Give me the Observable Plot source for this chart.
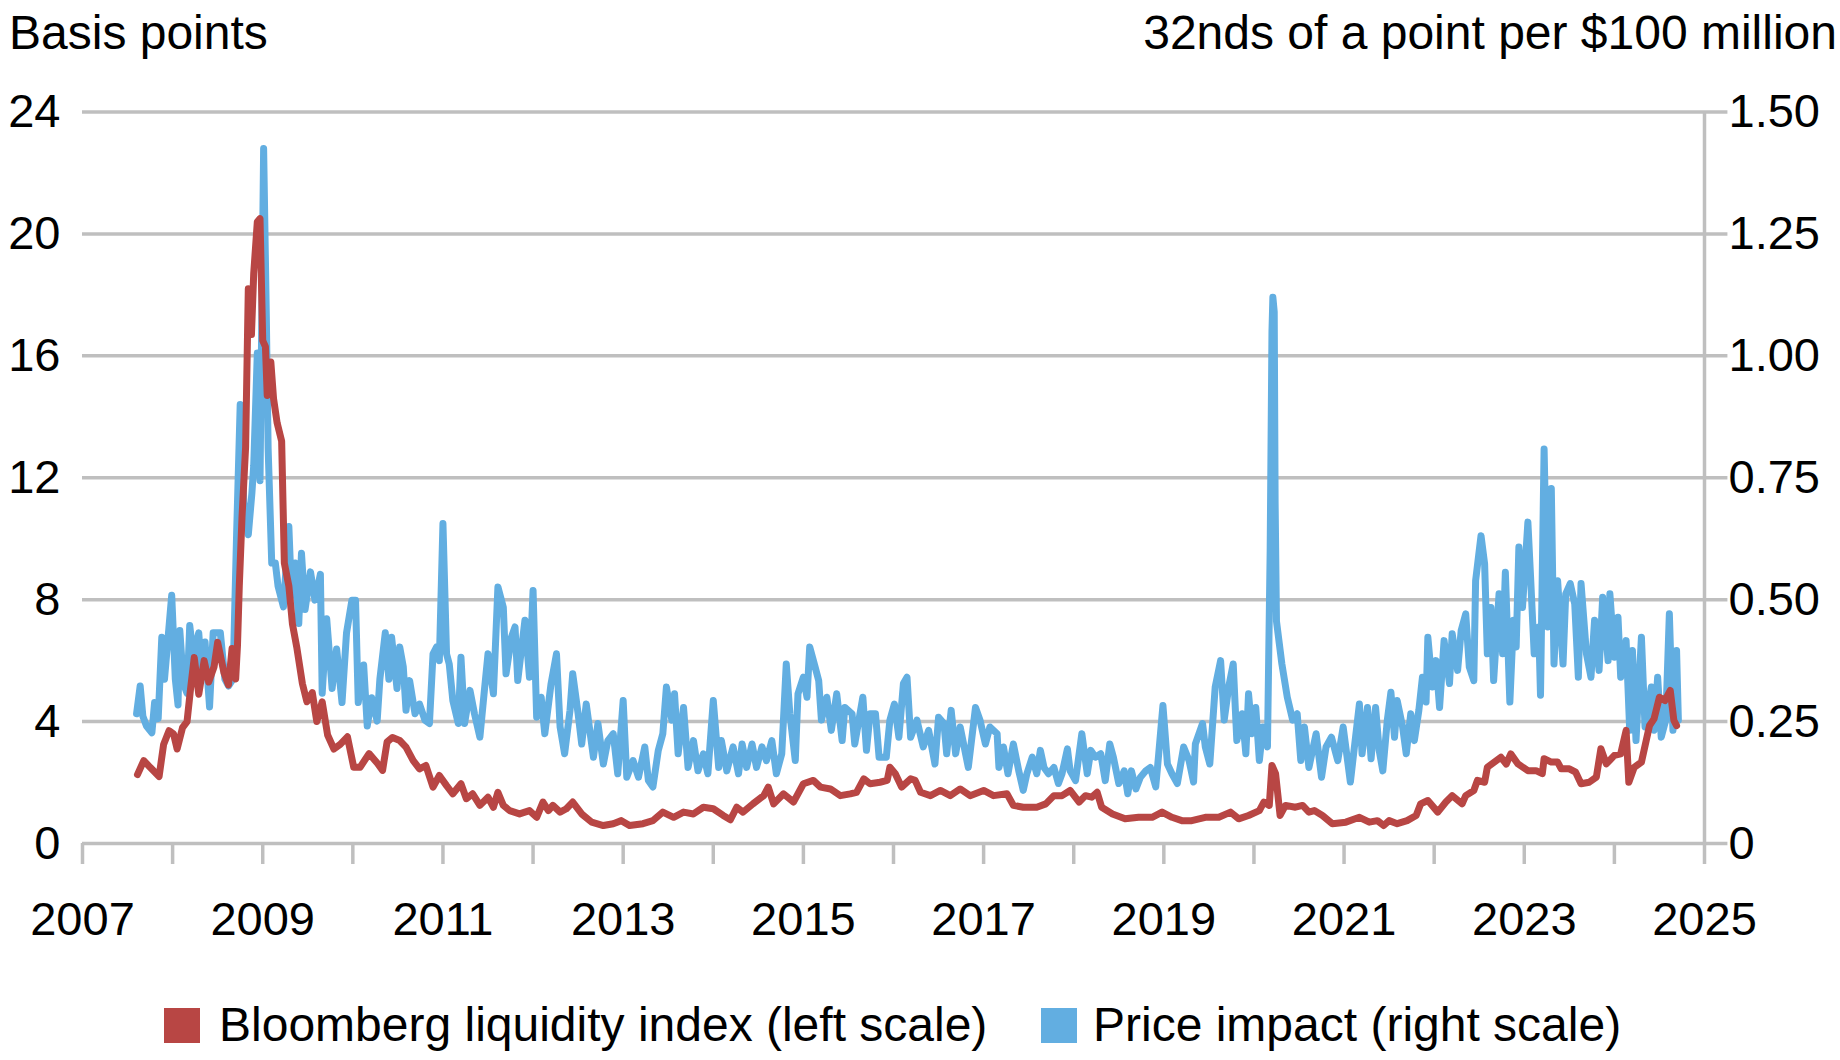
<!DOCTYPE html>
<html><head><meta charset="utf-8">
<script src="https://cdn.jsdelivr.net/npm/d3@7"></script>
<script src="https://cdn.jsdelivr.net/npm/@observablehq/plot@0.6"></script>
<style>
body{margin:0;background:#fff;font-family:"Liberation Sans",Arial,sans-serif;}
#wrap{position:relative;width:1840px;height:1060px;overflow:hidden;background:#fff;}
#chart{position:absolute;left:0;top:0;}
.t{position:absolute;font-size:48px;color:#000;white-space:nowrap;line-height:48px;}
.sw{position:absolute;width:36px;height:35px;}
</style></head><body>
<div id="wrap">
<div id="chart"></div>
<div class="t" style="left:9px;top:9px;">Basis points</div>
<div class="t" style="right:3px;top:9px;">32nds of a point per $100 million</div>
<div class="sw" style="left:164px;top:1008px;background:#b84644;"></div>
<div class="t" style="left:219px;top:1001px;">Bloomberg liquidity index (left scale)</div>
<div class="sw" style="left:1041px;top:1008px;background:#62aee1;"></div>
<div class="t" style="left:1093px;top:1001px;">Price impact (right scale)</div>
</div>
<script>
// Bloomberg liquidity index, basis points (left scale)
const redYears = [2007.61,2007.68,2007.75,2007.85,2007.90,2007.96,2008.01,2008.05,2008.11,2008.16,2008.20,2008.24,2008.29,2008.35,2008.40,2008.46,2008.50,2008.57,2008.62,2008.66,2008.70,2008.72,2008.74,2008.77,2008.81,2008.84,2008.875,2008.90,2008.94,2008.97,2009.00,2009.03,2009.05,2009.09,2009.12,2009.16,2009.21,2009.24,2009.29,2009.33,2009.38,2009.44,2009.49,2009.55,2009.60,2009.66,2009.72,2009.79,2009.86,2009.94,2010.01,2010.08,2010.18,2010.27,2010.33,2010.38,2010.44,2010.52,2010.59,2010.67,2010.74,2010.81,2010.89,2010.96,2011.04,2011.11,2011.20,2011.26,2011.33,2011.41,2011.50,2011.56,2011.61,2011.67,2011.74,2011.85,2011.96,2012.04,2012.11,2012.17,2012.22,2012.30,2012.37,2012.44,2012.54,2012.65,2012.78,2012.89,2012.98,2013.07,2013.22,2013.33,2013.44,2013.56,2013.67,2013.78,2013.89,2014.00,2014.11,2014.19,2014.26,2014.33,2014.44,2014.56,2014.61,2014.67,2014.78,2014.89,2015.00,2015.11,2015.19,2015.30,2015.41,2015.52,2015.59,2015.67,2015.74,2015.85,2015.93,2015.96,2016.02,2016.09,2016.19,2016.24,2016.30,2016.41,2016.52,2016.63,2016.74,2016.85,2017.00,2017.11,2017.26,2017.33,2017.44,2017.59,2017.69,2017.78,2017.87,2017.96,2018.06,2018.13,2018.20,2018.26,2018.31,2018.43,2018.57,2018.72,2018.87,2018.98,2019.09,2019.20,2019.31,2019.46,2019.61,2019.74,2019.83,2019.94,2020.06,2020.11,2020.17,2020.20,2020.24,2020.29,2020.35,2020.46,2020.54,2020.61,2020.67,2020.76,2020.87,2021.02,2021.17,2021.28,2021.37,2021.44,2021.50,2021.59,2021.70,2021.80,2021.85,2021.93,2022.04,2022.13,2022.20,2022.31,2022.35,2022.44,2022.48,2022.56,2022.59,2022.74,2022.80,2022.85,2022.93,2023.04,2023.13,2023.20,2023.22,2023.30,2023.37,2023.41,2023.50,2023.57,2023.63,2023.72,2023.80,2023.85,2023.91,2024.00,2024.07,2024.13,2024.16,2024.22,2024.30,2024.39,2024.44,2024.50,2024.56,2024.62,2024.66,2024.69];
const redValues = [2.26,2.72,2.5,2.2,3.25,3.7,3.6,3.1,3.8,4.0,5.1,6.1,4.9,6.0,5.3,5.8,6.6,5.6,5.2,6.4,5.4,6.5,8.45,10.7,13.0,18.2,16.7,18.7,20.4,20.5,16.5,16.3,14.7,15.8,14.6,13.8,13.2,9.2,8.45,7.2,6.4,5.25,4.65,4.95,4.0,4.65,3.56,3.1,3.25,3.5,2.5,2.5,2.95,2.64,2.4,3.33,3.48,3.38,3.16,2.72,2.45,2.56,1.85,2.23,1.90,1.63,1.96,1.47,1.63,1.25,1.52,1.19,1.68,1.25,1.08,0.97,1.08,0.86,1.36,1.08,1.25,1.03,1.14,1.36,0.97,0.70,0.59,0.65,0.75,0.59,0.65,0.75,1.03,0.86,1.03,0.97,1.19,1.14,0.92,0.78,1.19,1.03,1.30,1.57,1.85,1.30,1.63,1.36,1.96,2.07,1.85,1.79,1.57,1.63,1.68,2.12,1.96,2.01,2.07,2.50,2.29,1.85,2.12,2.07,1.68,1.57,1.74,1.57,1.79,1.57,1.74,1.57,1.63,1.25,1.19,1.19,1.30,1.57,1.57,1.74,1.36,1.57,1.52,1.68,1.19,0.97,0.81,0.86,0.86,1.03,0.86,0.75,0.75,0.86,0.86,1.03,0.81,0.92,1.08,1.36,1.25,2.56,2.29,0.92,1.25,1.19,1.25,1.03,1.08,0.92,0.65,0.70,0.86,0.70,0.75,0.59,0.75,0.65,0.75,0.92,1.30,1.41,1.03,1.36,1.57,1.30,1.57,1.74,2.07,2.01,2.50,2.83,2.61,2.94,2.61,2.39,2.39,2.29,2.78,2.67,2.67,2.45,2.45,2.34,1.96,2.01,2.18,3.11,2.61,2.89,2.94,3.71,2.01,2.50,2.67,3.87,4.09,4.80,4.69,5.02,4.04,3.87];

// Price impact, 32nds of a point per $100 million (right scale)
const blueYears = [2007.60,2007.64,2007.67,2007.71,2007.77,2007.80,2007.84,2007.88,2007.91,2007.95,2007.99,2008.03,2008.06,2008.08,2008.12,2008.16,2008.19,2008.23,2008.29,2008.32,2008.36,2008.41,2008.45,2008.53,2008.58,2008.62,2008.67,2008.71,2008.75,2008.79,2008.84,2008.88,2008.90,2008.94,2008.97,2009.01,2009.04,2009.06,2009.10,2009.14,2009.17,2009.23,2009.29,2009.32,2009.36,2009.40,2009.43,2009.47,2009.53,2009.58,2009.64,2009.66,2009.71,2009.77,2009.82,2009.88,2009.93,2009.99,2010.03,2010.06,2010.12,2010.16,2010.21,2010.27,2010.30,2010.36,2010.40,2010.43,2010.49,2010.52,2010.56,2010.59,2010.63,2010.69,2010.74,2010.80,2010.85,2010.89,2010.93,2010.96,2011.00,2011.04,2011.07,2011.11,2011.17,2011.20,2011.24,2011.30,2011.35,2011.41,2011.46,2011.50,2011.56,2011.61,2011.67,2011.70,2011.76,2011.80,2011.83,2011.91,2011.96,2012.00,2012.04,2012.09,2012.13,2012.20,2012.26,2012.30,2012.35,2012.41,2012.44,2012.50,2012.54,2012.59,2012.67,2012.72,2012.78,2012.83,2012.89,2012.94,2013.00,2013.04,2013.11,2013.17,2013.24,2013.28,2013.33,2013.39,2013.44,2013.48,2013.54,2013.57,2013.61,2013.67,2013.72,2013.78,2013.83,2013.89,2013.94,2014.00,2014.06,2014.09,2014.15,2014.22,2014.28,2014.32,2014.37,2014.43,2014.48,2014.54,2014.59,2014.65,2014.70,2014.76,2014.81,2014.85,2014.91,2014.94,2015.00,2015.04,2015.07,2015.13,2015.17,2015.20,2015.26,2015.31,2015.37,2015.43,2015.46,2015.54,2015.57,2015.66,2015.70,2015.74,2015.80,2015.84,2015.92,2015.96,2016.01,2016.06,2016.11,2016.15,2016.19,2016.26,2016.33,2016.39,2016.46,2016.50,2016.56,2016.59,2016.64,2016.69,2016.74,2016.83,2016.91,2016.96,2017.02,2017.07,2017.15,2017.17,2017.22,2017.27,2017.33,2017.39,2017.44,2017.48,2017.54,2017.59,2017.63,2017.67,2017.72,2017.78,2017.83,2017.87,2017.93,2017.96,2018.02,2018.09,2018.15,2018.19,2018.24,2018.30,2018.35,2018.40,2018.44,2018.50,2018.56,2018.60,2018.64,2018.69,2018.74,2018.80,2018.85,2018.91,2018.94,2018.99,2019.04,2019.09,2019.15,2019.22,2019.28,2019.33,2019.35,2019.43,2019.46,2019.51,2019.57,2019.63,2019.67,2019.72,2019.77,2019.81,2019.87,2019.91,2019.94,2019.98,2020.02,2020.06,2020.10,2020.15,2020.18,2020.20,2020.21,2020.225,2020.235,2020.25,2020.31,2020.37,2020.43,2020.48,2020.52,2020.56,2020.61,2020.69,2020.75,2020.80,2020.86,2020.93,2020.99,2021.07,2021.17,2021.20,2021.26,2021.30,2021.35,2021.39,2021.43,2021.48,2021.52,2021.56,2021.59,2021.65,2021.69,2021.74,2021.78,2021.83,2021.87,2021.91,2021.93,2021.98,2022.02,2022.06,2022.11,2022.17,2022.20,2022.26,2022.30,2022.35,2022.39,2022.44,2022.46,2022.52,2022.56,2022.59,2022.63,2022.66,2022.72,2022.76,2022.79,2022.84,2022.88,2022.91,2022.94,2022.98,2023.04,2023.07,2023.11,2023.16,2023.18,2023.22,2023.26,2023.30,2023.33,2023.37,2023.43,2023.46,2023.51,2023.56,2023.60,2023.63,2023.69,2023.74,2023.78,2023.83,2023.87,2023.93,2023.95,2024.00,2024.04,2024.07,2024.13,2024.17,2024.20,2024.24,2024.30,2024.34,2024.41,2024.44,2024.48,2024.52,2024.57,2024.61,2024.65,2024.69,2024.71];
const blueValues = [0.266,0.323,0.261,0.241,0.227,0.289,0.256,0.423,0.337,0.423,0.509,0.337,0.284,0.437,0.328,0.308,0.447,0.384,0.432,0.356,0.413,0.280,0.432,0.432,0.337,0.323,0.337,0.633,0.900,0.700,0.633,0.719,0.775,1.006,0.744,1.425,1.081,0.810,0.575,0.575,0.528,0.485,0.650,0.509,0.575,0.451,0.595,0.480,0.557,0.499,0.552,0.308,0.461,0.318,0.399,0.289,0.432,0.499,0.499,0.289,0.366,0.241,0.299,0.251,0.337,0.432,0.337,0.423,0.318,0.403,0.362,0.273,0.334,0.266,0.286,0.253,0.246,0.389,0.403,0.375,0.656,0.389,0.368,0.293,0.246,0.382,0.246,0.314,0.266,0.218,0.314,0.389,0.307,0.526,0.484,0.348,0.423,0.444,0.334,0.458,0.341,0.519,0.259,0.300,0.225,0.328,0.389,0.239,0.184,0.273,0.348,0.266,0.204,0.286,0.177,0.246,0.163,0.211,0.225,0.143,0.293,0.136,0.170,0.136,0.198,0.129,0.116,0.191,0.225,0.321,0.253,0.307,0.184,0.279,0.156,0.211,0.149,0.184,0.143,0.293,0.156,0.211,0.149,0.198,0.143,0.204,0.156,0.204,0.156,0.198,0.170,0.211,0.143,0.184,0.368,0.266,0.170,0.307,0.341,0.300,0.403,0.362,0.334,0.253,0.300,0.232,0.307,0.211,0.279,0.266,0.204,0.300,0.191,0.266,0.266,0.177,0.177,0.253,0.286,0.218,0.328,0.341,0.218,0.253,0.198,0.232,0.163,0.259,0.246,0.184,0.273,0.184,0.239,0.156,0.279,0.253,0.204,0.239,0.225,0.156,0.198,0.143,0.204,0.149,0.109,0.143,0.177,0.143,0.191,0.156,0.143,0.156,0.123,0.143,0.194,0.149,0.129,0.225,0.143,0.191,0.177,0.184,0.129,0.204,0.177,0.123,0.149,0.102,0.149,0.112,0.136,0.149,0.156,0.116,0.177,0.283,0.163,0.143,0.123,0.198,0.170,0.126,0.204,0.246,0.198,0.163,0.321,0.375,0.253,0.321,0.368,0.211,0.266,0.184,0.307,0.225,0.279,0.170,0.239,0.198,0.600,1.050,1.120,1.090,0.700,0.456,0.368,0.300,0.253,0.266,0.170,0.239,0.156,0.225,0.136,0.198,0.218,0.170,0.239,0.126,0.286,0.184,0.279,0.174,0.279,0.191,0.149,0.253,0.310,0.218,0.293,0.239,0.184,0.266,0.211,0.273,0.341,0.290,0.423,0.321,0.375,0.279,0.416,0.328,0.430,0.355,0.437,0.471,0.362,0.334,0.539,0.631,0.573,0.389,0.484,0.334,0.512,0.389,0.556,0.290,0.458,0.403,0.608,0.484,0.659,0.546,0.389,0.444,0.304,0.809,0.444,0.728,0.368,0.539,0.368,0.512,0.533,0.491,0.341,0.533,0.389,0.341,0.458,0.355,0.505,0.375,0.512,0.382,0.464,0.341,0.416,0.232,0.396,0.211,0.423,0.239,0.321,0.232,0.341,0.218,0.253,0.471,0.232,0.396,0.253];

// Axis ticks
const yearTicks = d3.range(2007, 2026);
const leftTicks = [0, 4, 8, 12, 16, 20, 24];
const rightTickLabels = ["0", "0.25", "0.50", "0.75", "1.00", "1.25", "1.50"];
const rightPerLeft = 1 / 16; // 1.50 on the right matches 24 on the left

const red = d3.range(redYears.length);
const blue = d3.range(blueYears.length);
const grid = "#bfbfbf";

const chart = Plot.plot({
  width: 1840,
  height: 960,
  marginLeft: 82,
  marginRight: 136,
  marginTop: 111.5,
  marginBottom: 117,
  style: {fontFamily: "'Liberation Sans', Arial, sans-serif", fontSize: "47px", color: "#000", background: "#fff", overflow: "visible"},
  x: {type: "linear", domain: [2007, 2025]},
  y: {domain: [0, 24]},
  marks: [
    Plot.ruleY(leftTicks, {x1: 2007, x2: 2025.26, stroke: grid, strokeWidth: 3.5}),
    Plot.ruleX([2025], {y1: 0, y2: 24, stroke: grid, strokeWidth: 3.5}),
    Plot.axisX({ticks: yearTicks, tickSize: 21, tickPadding: 37, stroke: grid, strokeWidth: 3.5,
      tickFormat: d => (d % 2 === 1 ? String(d) : ""), label: null}),
    Plot.axisY({anchor: "left", ticks: leftTicks, tickSize: 0, tickPadding: 22, tickFormat: d => String(d), label: null}),
    Plot.axisY({anchor: "right", ticks: leftTicks, tickSize: 0, tickPadding: 24,
      tickFormat: d => rightTickLabels[leftTicks.indexOf(d)], label: null}),
    Plot.line(blue, {x: i => blueYears[i], y: i => blueValues[i] / rightPerLeft, stroke: "#62aee1",
      strokeWidth: 7, strokeLinejoin: "round", strokeLinecap: "round"}),
    Plot.line(red, {x: i => redYears[i], y: i => redValues[i], stroke: "#b84644",
      strokeWidth: 7, strokeLinejoin: "round", strokeLinecap: "round"})
  ]
});
document.getElementById("chart").appendChild(chart);
</script>
</body></html>
